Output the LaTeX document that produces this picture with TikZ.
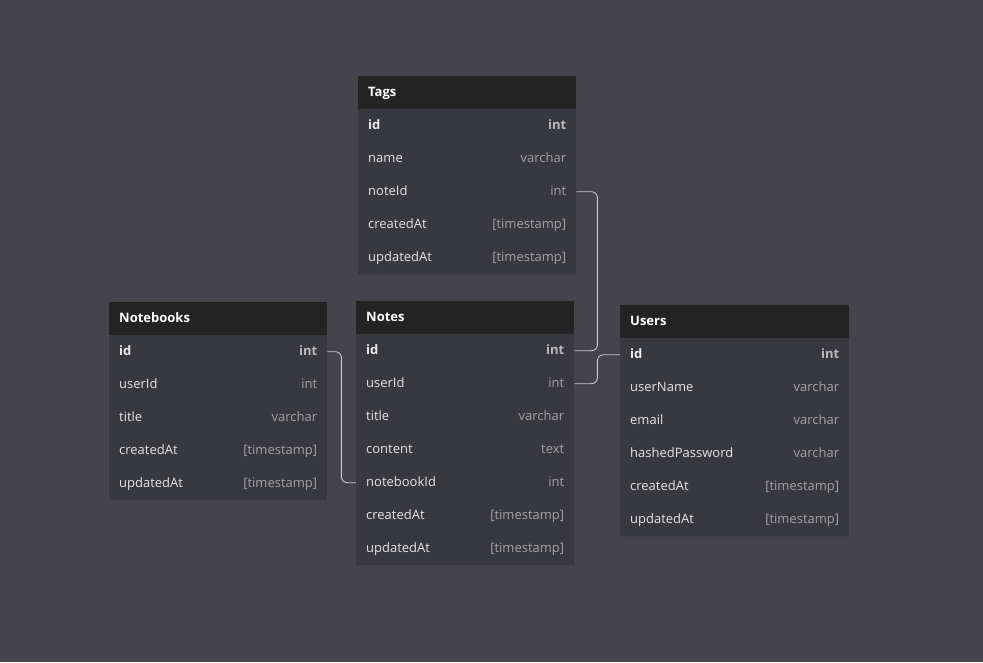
\documentclass[tikz,border=0pt]{standalone}
\usepackage{fontspec}
\setmainfont{Open Sans}
\definecolor{bgc}{RGB}{69,68,76}
\definecolor{hdrc}{RGB}{35,35,35}
\definecolor{rowc}{RGB}{56,56,63}
\definecolor{sepc}{RGB}{64,64,71}
\definecolor{fnc}{RGB}{228,228,228}
\definecolor{ftc}{RGB}{162,162,165}
\definecolor{idfc}{RGB}{236,236,236}
\definecolor{idtc}{RGB}{185,185,188}
\definecolor{connc}{RGB}{200,200,203}
\tikzset{
  rowbox/.style={fill=rowc, minimum height=33pt, inner sep=0pt, anchor=north west},
  hdrbox/.style={fill=hdrc, minimum height=33pt, inner sep=0pt, anchor=north west},
  fname/.style={anchor=base west, inner sep=0pt, text=fnc, font=\fontsize{13}{15}\selectfont},
  ftype/.style={anchor=base east, inner sep=0pt, text=ftc, font=\fontsize{13}{15}\selectfont},
  keyf/.style={text=idfc, font=\fontsize{13}{15}\selectfont\bfseries},
  keyt/.style={text=idtc, font=\fontsize{13}{15}\selectfont\bfseries},
  plain/.style={},
  ttl/.style={anchor=base west, inner sep=0pt, text=white, font=\fontsize{13}{15}\selectfont\bfseries},
  sepline/.style={draw=sepc, line width=1pt},
  conn/.style={draw=connc, line width=0.9pt, rounded corners=6pt}
}
\newcommand{\erdhead}[5]{% name x y w title
  \node[hdrbox, minimum width=#4pt] (#1) at (#2,#3) {};
  \node[ttl] (#1-title) at ([xshift=10pt,yshift=-3.5pt]#1.west) {#5};
}
\newcommand{\erdrow}[8]{% name x y w field type fstyle tstyle
  \node[rowbox, minimum width=#4pt] (#1) at (#2,#3) {};
  \draw[sepline] (#1.south west) -- (#1.south east);
  \node[fname,#7] (#1-f) at ([xshift=10pt,yshift=-3.5pt]#1.west) {#5};
  \node[ftype,#8] (#1-t) at ([xshift=-10pt,yshift=-3.5pt]#1.east) {#6};
}
\begin{document}
\begin{tikzpicture}[x=1pt,y=-1pt]
\fill[bgc] (0,0) rectangle (983,662);
\useasboundingbox (0,0) rectangle (983,662);
% Tags
\erdhead{tags}{358}{76}{218}{Tags}
\erdrow{tags-id}{358}{109}{218}{id}{int}{keyf}{keyt}
\erdrow{tags-name}{358}{142}{218}{name}{varchar}{plain}{plain}
\erdrow{tags-noteId}{358}{175}{218}{noteId}{int}{plain}{plain}
\erdrow{tags-createdAt}{358}{208}{218}{createdAt}{[timestamp]}{plain}{plain}
\erdrow{tags-updatedAt}{358}{241}{218}{updatedAt}{[timestamp]}{plain}{plain}
% Notebooks
\erdhead{nb}{109}{302}{218}{Notebooks}
\erdrow{nb-id}{109}{335}{218}{id}{int}{keyf}{keyt}
\erdrow{nb-userId}{109}{368}{218}{userId}{int}{plain}{plain}
\erdrow{nb-title}{109}{401}{218}{title}{varchar}{plain}{plain}
\erdrow{nb-createdAt}{109}{434}{218}{createdAt}{[timestamp]}{plain}{plain}
\erdrow{nb-updatedAt}{109}{467}{218}{updatedAt}{[timestamp]}{plain}{plain}
% Notes
\erdhead{notes}{356}{301}{218}{Notes}
\erdrow{notes-id}{356}{334}{218}{id}{int}{keyf}{keyt}
\erdrow{notes-userId}{356}{367}{218}{userId}{int}{plain}{plain}
\erdrow{notes-title}{356}{400}{218}{title}{varchar}{plain}{plain}
\erdrow{notes-content}{356}{433}{218}{content}{text}{plain}{plain}
\erdrow{notes-notebookId}{356}{466}{218}{notebookId}{int}{plain}{plain}
\erdrow{notes-createdAt}{356}{499}{218}{createdAt}{[timestamp]}{plain}{plain}
\erdrow{notes-updatedAt}{356}{532}{218}{updatedAt}{[timestamp]}{plain}{plain}
% Users
\erdhead{users}{620}{305}{229}{Users}
\erdrow{users-id}{620}{338}{229}{id}{int}{keyf}{keyt}
\erdrow{users-userName}{620}{371}{229}{userName}{varchar}{plain}{plain}
\erdrow{users-email}{620}{404}{229}{email}{varchar}{plain}{plain}
\erdrow{users-hashedPassword}{620}{437}{229}{hashedPassword}{varchar}{plain}{plain}
\erdrow{users-createdAt}{620}{470}{229}{createdAt}{[timestamp]}{plain}{plain}
\erdrow{users-updatedAt}{620}{503}{229}{updatedAt}{[timestamp]}{plain}{plain}
% connectors
\draw[conn] (tags-noteId.east) -- ++(21,0) |- (notes-id.east);
\draw[conn] (notes-userId.east) -- ++(23,0) |- (users-id.west);
\draw[conn] (nb-id.east) -- ++(14,0) |- (notes-notebookId.west);
\end{tikzpicture}
\end{document}
